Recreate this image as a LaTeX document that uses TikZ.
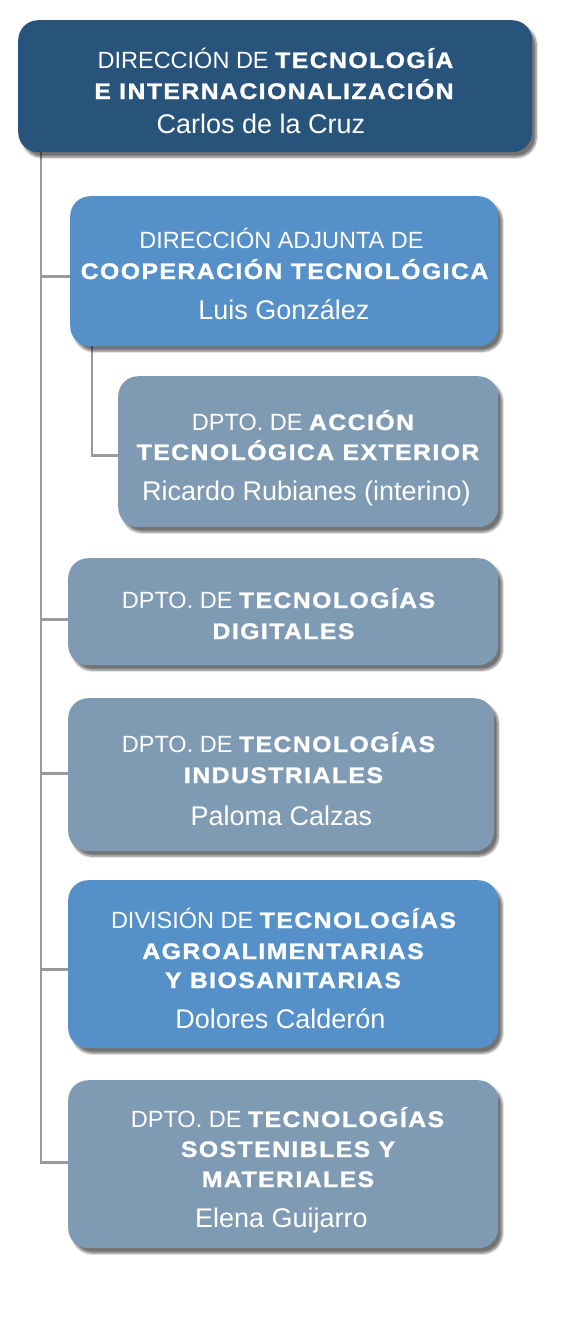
\documentclass[tikz,border=0pt]{standalone}
\usepackage{fontspec}
\setmainfont{Liberation Sans}
\newfontfamily\bdfam[FakeStretch=1.1,LetterSpace=6.5,FakeBold=1.5]{Liberation Sans}
\usetikzlibrary{shadows.blur}
\definecolor{cdark}{HTML}{28547C}
\definecolor{cmid}{HTML}{5590C8}
\definecolor{cgrey}{HTML}{7F9AB3}
\definecolor{cline}{HTML}{9A9A9A}
\newcommand\bd[1]{{\bdfam\bfseries\fontsize{22.5}{28}\selectfont #1}}
\newcommand\ltsz{\fontsize{23.5}{28}\selectfont}
\newcommand\nmsz{\fontsize{27}{32}\selectfont}
\pgfdeclarelayer{bg}
\pgfsetlayers{bg,main}
\begin{document}
\begin{tikzpicture}[x=1pt,y=-1pt,
  box/.style={rounded corners=20pt, draw=none, anchor=north west, inner sep=0pt,
    blur shadow={shadow xshift=4pt, shadow yshift=-5pt, shadow blur steps=8, shadow opacity=55}},
  txt/.style={text=white, anchor=base, inner sep=0pt, font=\ltsz},
  nametxt/.style={text=white, anchor=base, inner sep=0pt, font=\nmsz},
  conn/.style={draw=cline, line width=2.8pt}]
\useasboundingbox (0,0) rectangle (576,1331);

% boxes
\node[box, fill=cdark, minimum width=514pt, minimum height=132pt] (b1) at (18,20) {};
\node[box, fill=cmid,  minimum width=428pt, minimum height=150pt] (b2) at (70,196) {};
\node[box, fill=cgrey, minimum width=380pt, minimum height=151pt] (b3) at (118,376) {};
\node[box, fill=cgrey, minimum width=430pt, minimum height=107pt] (b4) at (68,558) {};
\node[box, fill=cgrey, minimum width=426pt, minimum height=153pt] (b5) at (68,698) {};
\node[box, fill=cmid,  minimum width=430pt, minimum height=168pt] (b6) at (68,880) {};
\node[box, fill=cgrey, minimum width=430pt, minimum height=168pt] (b7) at (68,1080) {};

% connectors
\begin{pgfonlayer}{bg}
\coordinate (trunk) at ([xshift=23pt]b1.south west);
\coordinate (sub) at ([xshift=22pt]b2.south west);
\draw[conn] (trunk) |- ([yshift=2pt]b7.west);
\draw[conn] ([yshift=-5pt]trunk |- b2.west) -- ([yshift=-5pt]b2.west);
\draw[conn] ([yshift=-8pt]trunk |- b4.west) -- ([yshift=-8pt]b4.west);
\draw[conn] ([yshift=1.5pt]trunk |- b5.west) -- ([yshift=1.5pt]b5.west);
\draw[conn] ([yshift=-5pt]trunk |- b6.west) -- ([yshift=-5pt]b6.west);
\draw[conn] (sub) |- ([yshift=-3.5pt]b3.west);
\end{pgfonlayer}

% texts
\node[txt] (t1a) at (275.5,68) {DIRECCIÓN DE \bd{TECNOLOGÍA}};
\node[txt] (t1b) at (274,99) {\bd{E INTERNACIONALIZACIÓN}};
\node[nametxt] (t1c) at (261,133) {Carlos de la Cruz};

\node[txt] (t2a) at (281.5,248) {DIRECCIÓN ADJUNTA DE};
\node[txt] (t2b) at (284.5,279) {\bd{COOPERACIÓN TECNOLÓGICA}};
\node[nametxt] (t2c) at (284,319) {Luis González};

\node[txt] (t3a) at (303,430) {DPTO. DE \bd{ACCIÓN}};
\node[txt] (t3b) at (308,460) {\bd{TECNOLÓGICA EXTERIOR}};
\node[nametxt] (t3c) at (306.5,500) {Ricardo Rubianes (interino)};

\node[txt] (t4a) at (278.5,608) {DPTO. DE \bd{TECNOLOGÍAS}};
\node[txt] (t4b) at (283.5,639) {\bd{DIGITALES}};

\node[txt] (t5a) at (278.5,752) {DPTO. DE \bd{TECNOLOGÍAS}};
\node[txt] (t5b) at (283.5,783) {\bd{INDUSTRIALES}};
\node[nametxt] (t5c) at (281.5,825) {Paloma Calzas};

\node[txt] (t6a) at (283.5,928) {DIVISIÓN DE \bd{TECNOLOGÍAS}};
\node[txt] (t6b) at (283,959) {\bd{AGROALIMENTARIAS}};
\node[txt] (t6c) at (283,988) {\bd{Y BIOSANITARIAS}};
\node[nametxt] (t6d) at (280.5,1028) {Dolores Calderón};

\node[txt] (t7a) at (287.5,1127) {DPTO. DE \bd{TECNOLOGÍAS}};
\node[txt] (t7b) at (288,1157) {\bd{SOSTENIBLES Y}};
\node[txt] (t7c) at (288,1187) {\bd{MATERIALES}};
\node[nametxt] (t7d) at (281.5,1227) {Elena Guijarro};
\end{tikzpicture}
\end{document}
